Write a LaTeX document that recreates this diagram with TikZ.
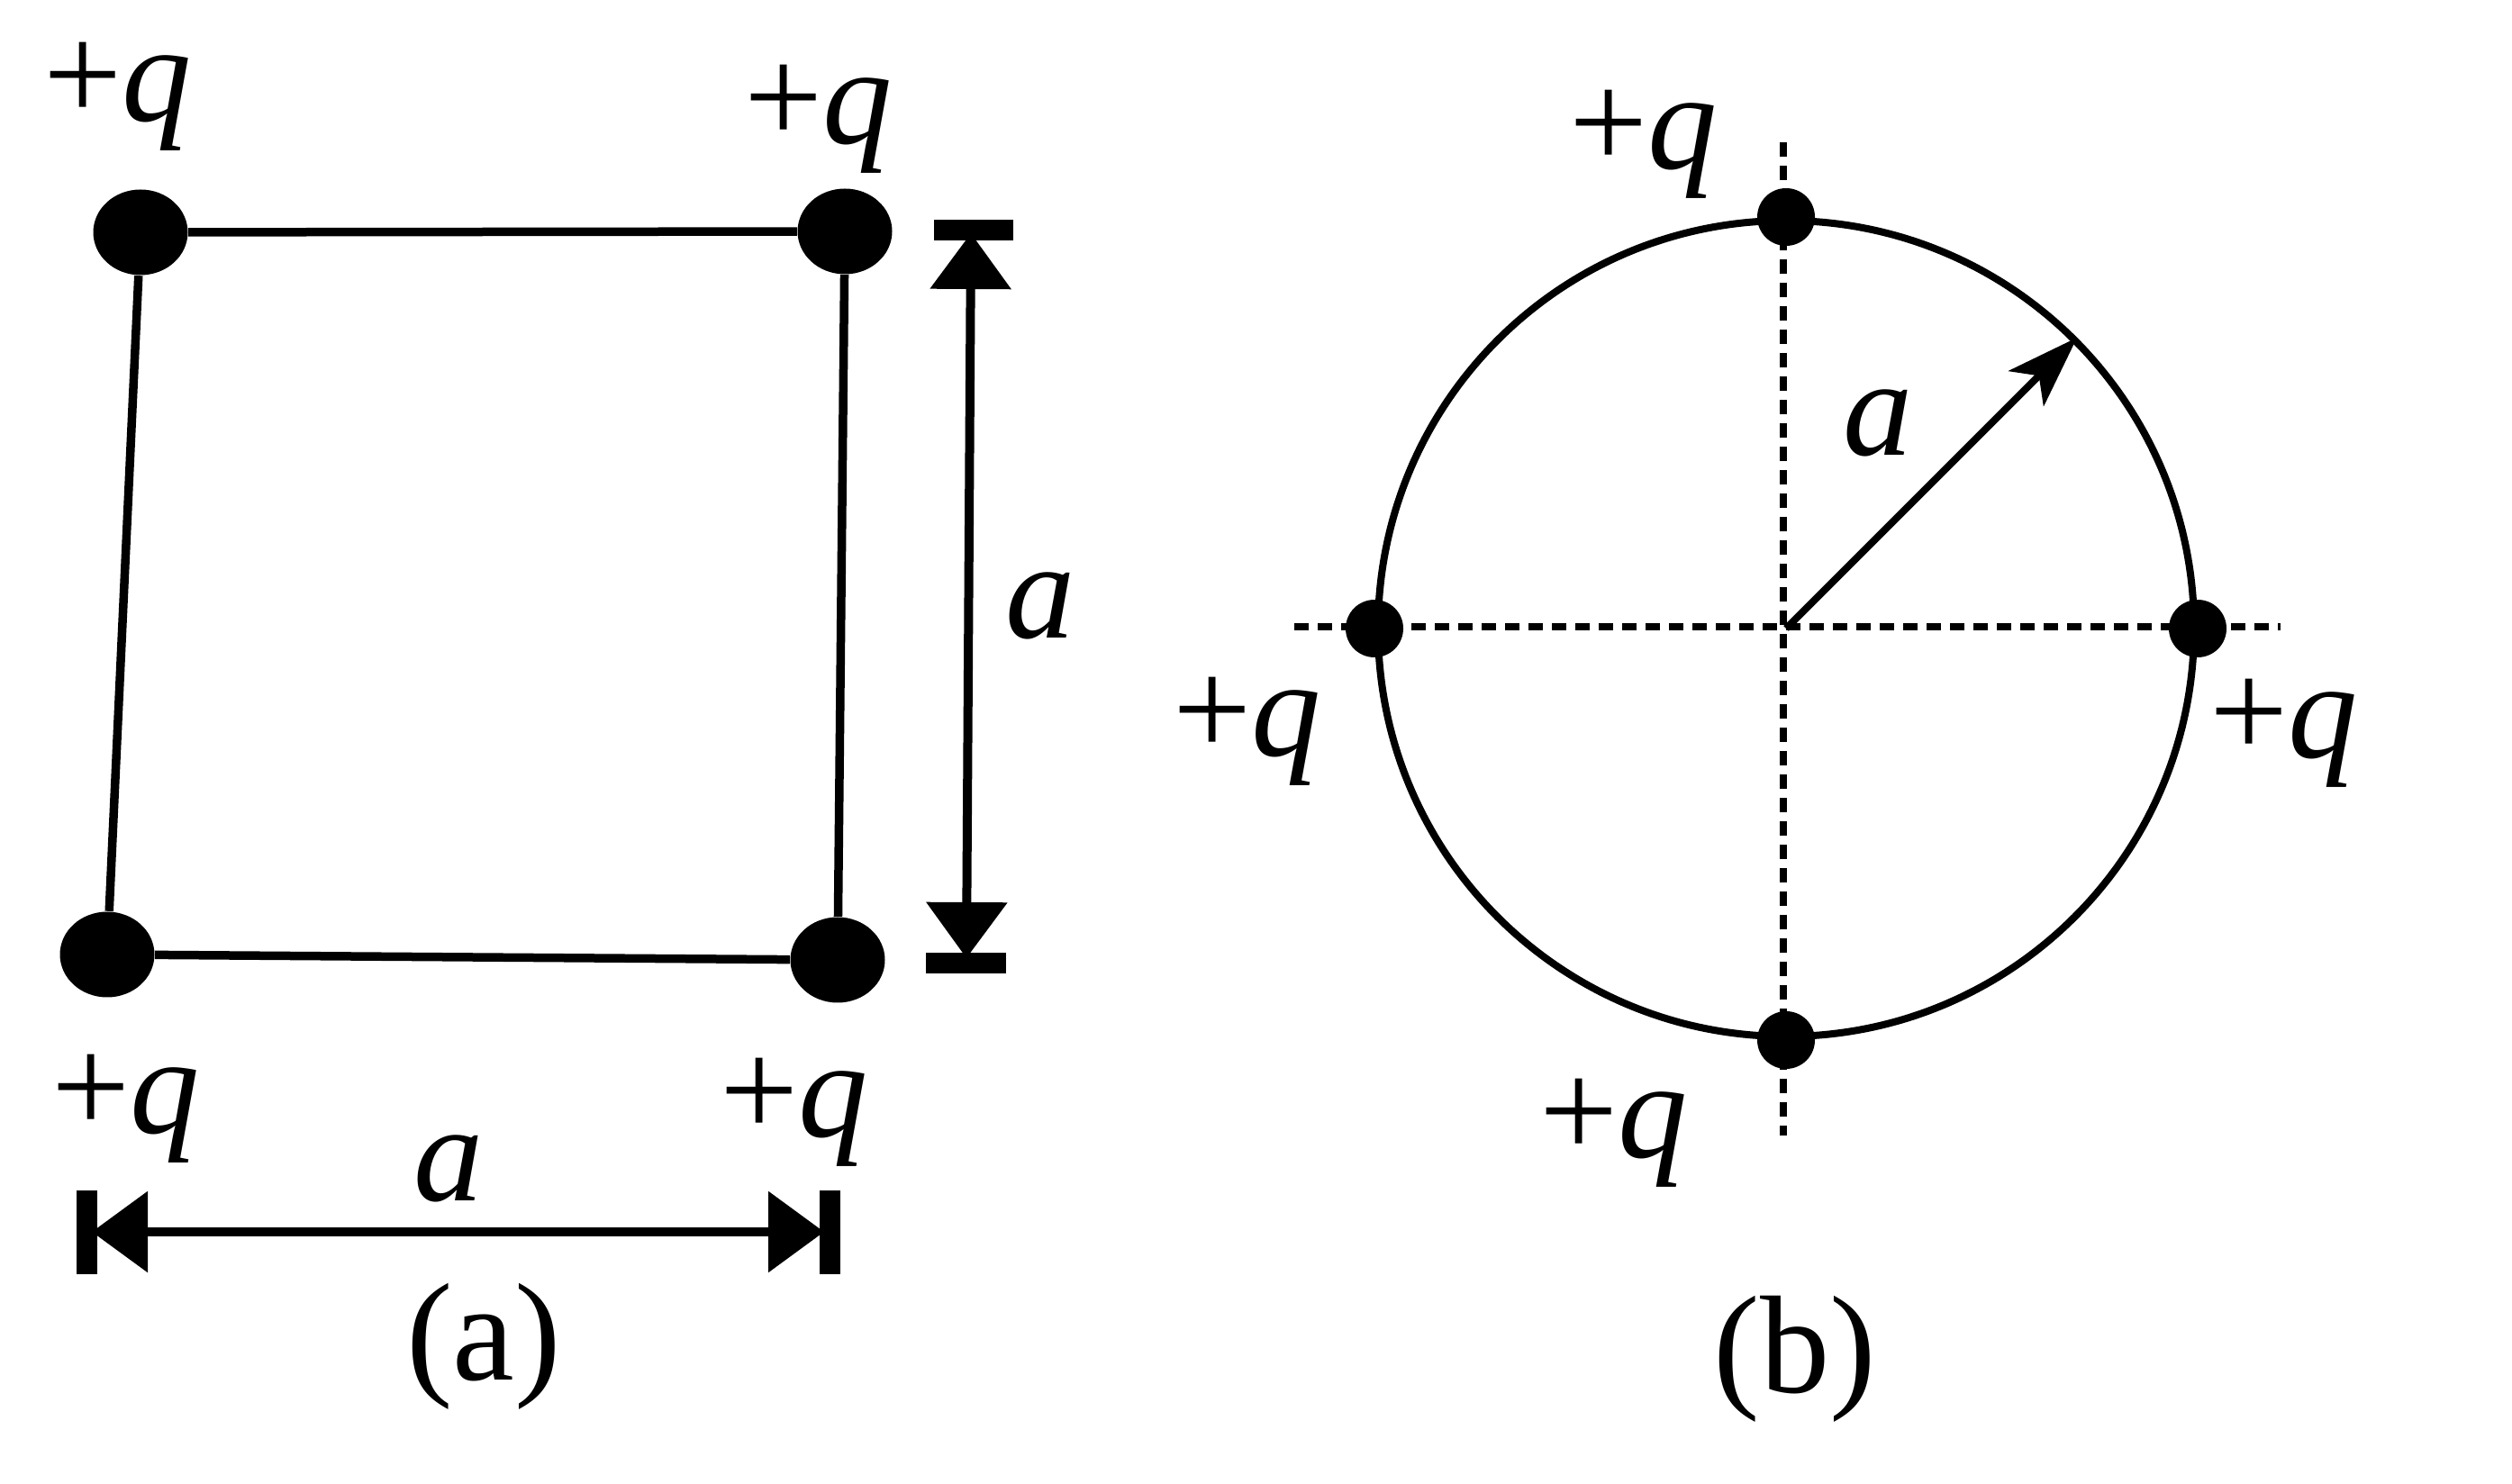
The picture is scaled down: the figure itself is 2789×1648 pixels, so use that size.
\documentclass[tikz,border=0pt]{standalone}
\usepackage{fontspec}
\setmainfont{Liberation Serif}
\usetikzlibrary{arrows.meta,shapes.geometric}
\begin{document}
\begin{tikzpicture}[x=0.1mm,y=-0.1mm,
  lbl/.style={font=\fontsize{44}{52}\selectfont, inner sep=0pt, anchor=base},
  captext/.style={font=\fontsize{44}{52}\selectfont, inner sep=0pt, anchor=center},
  bigdot/.style={ellipse, fill=black, inner sep=0pt, minimum width=10.5mm, minimum height=9.5mm},
  smalldot/.style={circle, fill=black, inner sep=0pt, minimum size=6.4mm},
  side/.style={line width=0.95mm},
  dimline/.style={line width=1mm, {Triangle[length=6.2mm,width=8.8mm]}-{Triangle[length=6.2mm,width=8.8mm]}},
  dimbar/.style={line width=2.3mm},
  axisline/.style={line width=0.75mm, dash pattern=on 1.6mm off 1mm},
  ring/.style={line width=0.8mm},
  radline/.style={line width=0.8mm, -{Stealth[length=8mm,width=5.5mm,inset=2mm]}}]
\useasboundingbox (0,0) rectangle (2789,1648);

% ---------- (a) square ----------
\node[bigdot] (tl) at (156,258) {};
\node[bigdot] (tr) at (938,257) {};
\node[bigdot] (bl) at (119,1060) {};
\node[bigdot] (br) at (930,1066) {};
\draw[side] (tl) -- (tr);
\draw[side] (tr) -- (br);
\draw[side] (br) -- (bl);
\draw[side] (bl) -- (tl);

\node[lbl] (qtl) at (131,135) {+\textit{q}};
\node[lbl] (qtr) at (909,160) {+\textit{q}};
\node[lbl] (qbl) at (140,1258) {+\textit{q}};
\node[lbl] (qbr) at (882,1262) {+\textit{q}};

% vertical dimension
\coordinate (vt) at (1078,259);
\coordinate (vb) at (1073,1064);
\coordinate (vtb1) at (1037,256);
\coordinate (vtb2) at (1125,256);
\coordinate (vbb1) at (1028,1070);
\coordinate (vbb2) at (1117,1070);
\draw[dimline] (vt) -- (vb);
\draw[dimbar] (vtb1) -- (vtb2);
\draw[dimbar] (vbb1) -- (vbb2);
\node[lbl] (va) at (1155,709) {\textit{a}};

% horizontal dimension
\coordinate (hl) at (102,1368);
\coordinate (hr) at (915,1368);
\coordinate (hlb1) at (96,1322);
\coordinate (hlb2) at (96,1415);
\coordinate (hrb1) at (921,1322);
\coordinate (hrb2) at (921,1415);
\draw[dimline] (hl) -- (hr);
\draw[dimbar] (hlb1) -- (hlb2);
\draw[dimbar] (hrb1) -- (hrb2);
\node[lbl] (ha) at (498,1333) {\textit{a}};

\node[captext] (capa) at (537,1495) {(a)};

% ---------- (b) circle ----------
\coordinate (c) at (1983,698);
\coordinate (h1) at (1437,696);
\coordinate (h2) at (2532,696);
\coordinate (v1) at (1980,158);
\coordinate (v2) at (1980,1261);
\draw[axisline] (h1) -- (h2);
\draw[axisline] (v1) -- (v2);

\node[circle, draw, ring, inner sep=0pt, minimum size=90.6mm] (circ) at (c) {};
\draw[radline] (c) -- (circ.45);

\node[smalldot] (dt) at (circ.north) {};
\node[smalldot] (dl) at (circ.west) {};
\node[smalldot] (dr) at (circ.east) {};
\node[smalldot] (db) at (circ.south) {};

\node[lbl] (qt) at (1825,188) {+\textit{q}};
\node[lbl] (ql) at (1385,840) {+\textit{q}};
\node[lbl] (qr) at (2536,842) {+\textit{q}};
\node[lbl] (qb) at (1792,1285) {+\textit{q}};
\node[lbl] (ca) at (2085,506) {\textit{a}};

\node[captext] (capb) at (1993,1509) {(b)};
\end{tikzpicture}
\end{document}
